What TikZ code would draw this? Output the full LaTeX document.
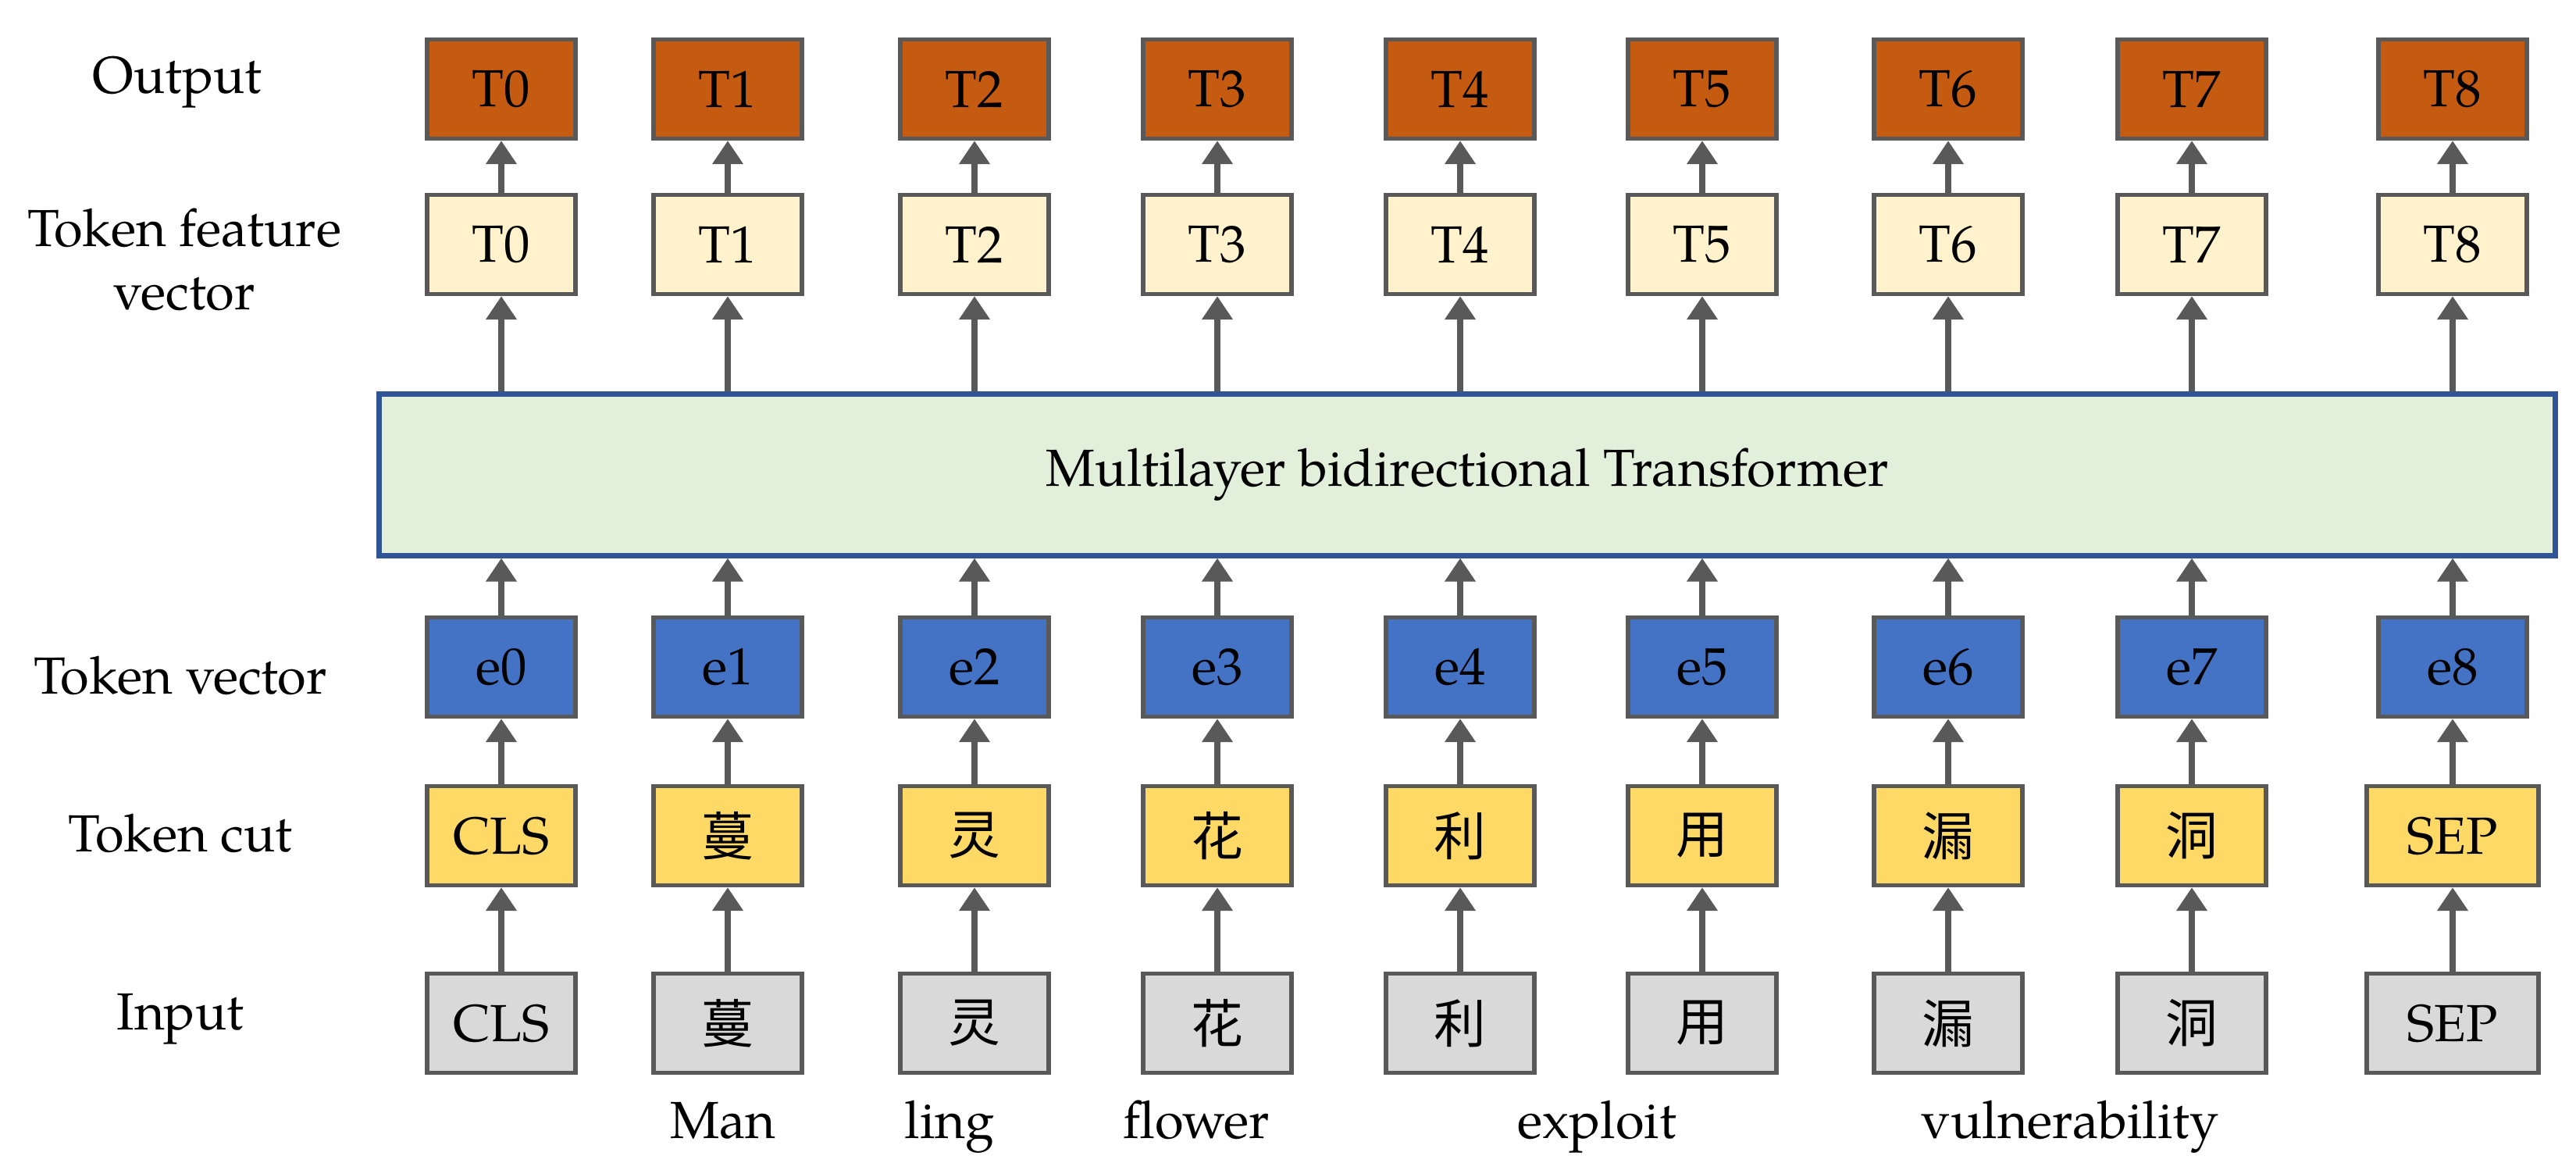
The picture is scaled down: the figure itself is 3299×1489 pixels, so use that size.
\documentclass[tikz,border=0pt]{standalone}
\usepackage{fontspec}
\setmainfont{TeX Gyre Pagella}
\newfontfamily\cjk{Noto Sans CJK SC}
\usetikzlibrary{arrows.meta}
\definecolor{outc}{HTML}{C55A11}
\definecolor{featc}{HTML}{FFF2CC}
\definecolor{transc}{HTML}{E2EFDA}
\definecolor{transb}{HTML}{2F5597}
\definecolor{ec}{HTML}{4472C4}
\definecolor{cutc}{HTML}{FFD966}
\definecolor{inc}{HTML}{D9D9D9}
\definecolor{gr}{HTML}{595959}
\tikzset{
 tok/.style={draw=gr,line width=1.5pt,minimum width=1.9cm,minimum height=1.27cm,inner sep=0pt,font=\fontsize{19}{22}\selectfont},
 lab/.style={font=\fontsize{19}{23}\selectfont,align=center},
 arr/.style={-{Triangle[length=0.3cm,width=0.38cm]},draw=gr,line width=2.2pt}
}
\begin{document}
\begin{tikzpicture}[x=0.01cm,y=-0.01cm]
\useasboundingbox (0,0) rectangle (3299,1489);
\node[lab] (lo) at (227,105) {Output};
\node[lab] (lf) at (236,332) {Token feature\\vector};
\node[lab] (lv) at (231,865) {Token vector};
\node[lab] (lc) at (231,1067) {Token cut};
\node[lab] (li) at (231,1305) {Input};
\node[draw=transb,fill=transc,line width=2pt,minimum width=27.86cm,minimum height=2.06cm,lab] (tr) at (1879,608) {Multilayer bidirectional Transformer};
\foreach \i/\x/\c/\w in {0/642/CLS/1.9,1/932/{\cjk 蔓}/1.9,2/1248/{\cjk 灵}/1.9,3/1559/{\cjk 花}/1.9,4/1870/{\cjk 利}/1.9,5/2180/{\cjk 用}/1.9,6/2495/{\cjk 漏}/1.9,7/2807/{\cjk 洞}/1.9,8/3141/SEP/2.2}{
 \node[tok,fill=outc] (o\i) at (\x,114) {T\i};
 \node[tok,fill=featc] (f\i) at (\x,313) {T\i};
 \node[tok,fill=ec] (e\i) at (\x,854) {e\i};
 \node[tok,fill=cutc,minimum width=\w cm] (c\i) at (\x,1070) {\c};
 \node[tok,fill=inc,minimum width=\w cm] (n\i) at (\x,1310) {\c};
 \draw[arr] (f\i.north) -- (o\i.south);
 \draw[arr] (f\i.south|-tr.north) -- (f\i.south);
 \draw[arr] (e\i.north) -- (e\i.north|-tr.south);
 \draw[arr] (c\i.north) -- (e\i.south);
 \draw[arr] (n\i.north) -- (c\i.south);
}
\foreach \t/\x in {Man/926,ling/1216,flower/1532,exploit/2045,vulnerability/2651}
 \node[lab,anchor=base] (b\t) at (\x,1457) {\t};
\end{tikzpicture}
\end{document}
